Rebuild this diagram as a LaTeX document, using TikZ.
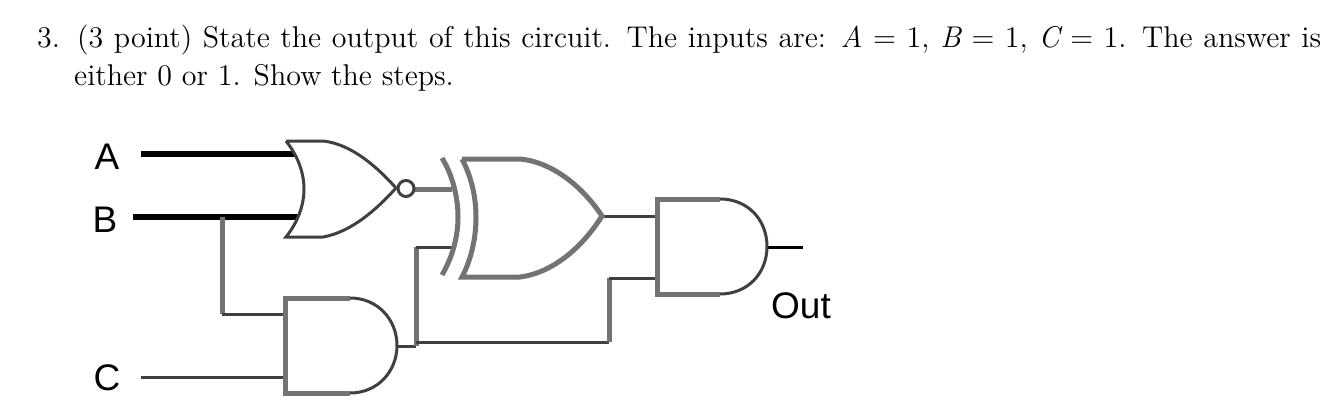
\documentclass[tikz,border=0pt]{standalone}
\usepackage{fontspec}
\newfontfamily\lblfont{Liberation Sans}
\font\qrm="[lmroman12-regular]" at 30pt
\font\qit="[lmroman12-italic]" at 30pt
\definecolor{wA}{gray}{0.0}
\definecolor{wB}{gray}{0.25}
\definecolor{wC}{gray}{0.45}
\tikzset{
 thickwire/.style={draw=wA,line width=6pt},
 thinwire/.style={draw=wB,line width=3pt},
 greywire/.style={draw=wC,line width=5pt},
 gatefine/.style={draw=wB,line width=3pt,line join=miter},
 gatebold/.style={draw=wC,line width=5pt,line join=miter},
 lbl/.style={font=\lblfont\fontsize{37}{37}\selectfont,inner sep=0pt},
 qtext/.style={anchor=base west,inner sep=0pt}
}
\begin{document}
\begin{tikzpicture}[x=1pt,y=-1pt]
\useasboundingbox (0,0) rectangle (1342,420);
\node[qtext] (n3) at (37,48) {\qrm 3.};
\node[qtext] (l1) at (77,48) {\makebox[1244pt][s]{\qrm (3 point) State the output of this circuit. The inputs are: \qit A\qrm\ = 1, \qit B\qrm\ = 1, \qit C\qrm\ = 1. The answer is}};
\node[qtext] (l2) at (74,85) {\qrm either 0 or 1. Show the steps.};
\node[lbl] (A) at (107,157) {A};
\node[lbl] (B) at (105,220) {B};
\node[lbl] (C) at (107,378) {C};
\node[lbl,anchor=west] (Out) at (771,306) {Out};
% pins
\coordinate (Aend) at (141,154);
\coordinate (Bend) at (133,217);
\coordinate (Cend) at (141,377);
\coordinate (norA) at (295,154);
\coordinate (norB) at (298,217);
\coordinate (Bj) at (222,217);
\coordinate (Bk) at (222,314);
\coordinate (and1a) at (285,314);
\coordinate (and1b) at (285,377);
\coordinate (and1o) at (397,346);
\coordinate (j1) at (416,346);
\coordinate (j2) at (416,342);
\coordinate (j3) at (416,247);
\coordinate (xorB) at (452,247);
\coordinate (norO) at (415,189);
\coordinate (xorA) at (452,189);
\coordinate (j4) at (609,342);
\coordinate (j5) at (609,278);
\coordinate (and2b) at (657,278);
\coordinate (xorO) at (602,216);
\coordinate (and2a) at (657,216);
\coordinate (and2o) at (767,247);
\coordinate (outend) at (803,247);
% wires
\draw[thickwire] (Aend) -- (norA);
\draw[thickwire] (Bend) -- (norB);
\draw[greywire] (Bj) -- (Bk);
\draw[thinwire] (Bk) -- (and1a);
\draw[thinwire] (Cend) -- (and1b);
\draw[thinwire] (and1o) -- (j1);
\draw[greywire] (j1) -- (j3);
\draw[thinwire] (j3) -- (xorB);
\draw[greywire] (norO) -- (xorA);
\draw[thinwire] (j2) -- (j4);
\draw[greywire] (j4) -- (j5);
\draw[thinwire] (j5) -- (and2b);
\draw[thinwire] (xorO) -- (and2a);
\draw[thinwire,draw=black] (and2o) -- (outend);
% NOR gate
\draw[gatefine] (286,141) -- (323,141) .. controls (352,144) and (378,168) .. (396,188)
  .. controls (378,208) and (352,232) .. (323,237) -- (286,237)
  .. controls (298,222) and (304,205) .. (304,189) .. controls (304,173) and (298,156) .. (286,141);
\node[circle,draw=wB,line width=3pt,fill=white,minimum size=16pt,inner sep=0pt] (bub) at (406,188.5) {};
% AND 1
\draw[gatebold] (350,298) -- (285,298) -- (285,393) -- (350,393);
\draw[gatefine] (350,298) .. controls (378,298) and (397,320) .. (397,345.5) .. controls (397,371) and (378,393) .. (350,393);
% XOR
\draw[gatebold] (442,158) .. controls (453,176) and (458,198) .. (458,217) .. controls (458,236) and (453,256) .. (442,275);
\draw[gatebold] (462,159) -- (520,159) .. controls (552,162) and (582,186) .. (602,216)
 .. controls (582,248) and (552,273) .. (520,277) -- (462,277)
 .. controls (472,258) and (476,236) .. (476,218) .. controls (476,198) and (472,178) .. (462,159);
% AND 2
\draw[gatebold] (720,199) -- (657,199) -- (657,294) -- (720,294);
\draw[gatefine] (720,199) .. controls (748,199) and (767,220) .. (767,246.5) .. controls (767,273) and (748,294) .. (720,294);
\end{tikzpicture}
\end{document}
